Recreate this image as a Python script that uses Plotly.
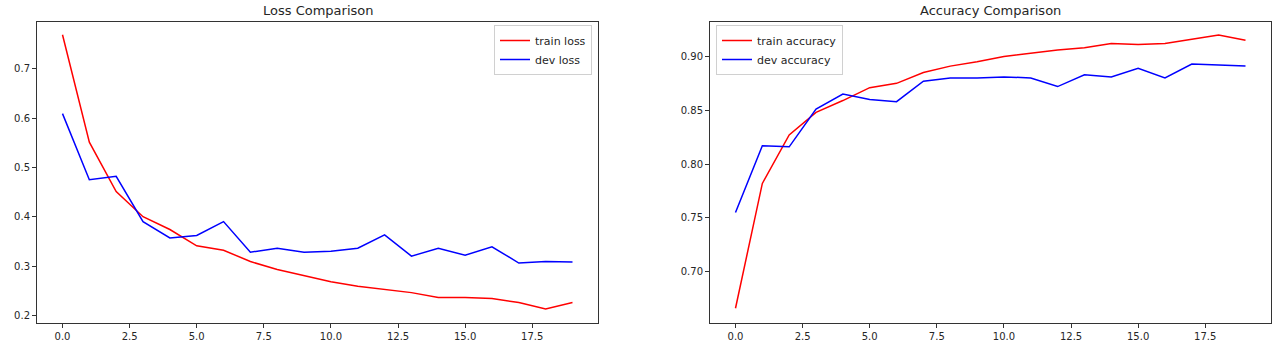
import plotly.graph_objects as go

epochs = list(range(20))
train_loss = [0.769, 0.551, 0.451, 0.400, 0.374, 0.341, 0.332, 0.309, 0.293, 0.281,
              0.268, 0.259, 0.252, 0.246, 0.236, 0.236, 0.234, 0.226, 0.213, 0.226]
dev_loss = [0.609, 0.475, 0.482, 0.390, 0.357, 0.362, 0.390, 0.328, 0.336, 0.328,
            0.330, 0.336, 0.363, 0.320, 0.336, 0.322, 0.339, 0.306, 0.309, 0.308]
train_acc = [0.666, 0.782, 0.827, 0.848, 0.859, 0.871, 0.875, 0.885, 0.891, 0.895,
             0.900, 0.903, 0.906, 0.908, 0.912, 0.911, 0.912, 0.916, 0.920, 0.915]
dev_acc = [0.755, 0.817, 0.816, 0.851, 0.865, 0.860, 0.858, 0.877, 0.880, 0.880,
           0.881, 0.880, 0.872, 0.883, 0.881, 0.889, 0.880, 0.893, 0.892, 0.891]

x_ticks = [0, 2.5, 5, 7.5, 10, 12.5, 15, 17.5]
loss_ticks = [0.2, 0.3, 0.4, 0.5, 0.6, 0.7]
acc_ticks = [0.70, 0.75, 0.80, 0.85, 0.90]

FONT = "DejaVu Sans"
TXT = "#262626"

fig = go.Figure()
fig.add_trace(go.Scatter(x=epochs, y=train_loss, mode="lines", name="train loss",
                         line=dict(color="red", width=1.5), xaxis="x", yaxis="y", legend="legend"))
fig.add_trace(go.Scatter(x=epochs, y=dev_loss, mode="lines", name="dev loss",
                         line=dict(color="blue", width=1.5), xaxis="x", yaxis="y", legend="legend"))
fig.add_trace(go.Scatter(x=epochs, y=train_acc, mode="lines", name="train accuracy",
                         line=dict(color="red", width=1.5), xaxis="x2", yaxis="y2", legend="legend2"))
fig.add_trace(go.Scatter(x=epochs, y=dev_acc, mode="lines", name="dev accuracy",
                         line=dict(color="blue", width=1.5), xaxis="x2", yaxis="y2", legend="legend2"))

ax_common = dict(showline=True, linecolor="#333333", linewidth=1, mirror=True,
                 ticks="outside", ticklen=4, tickcolor="#333333", showgrid=False,
                 zeroline=False, tickfont=dict(family=FONT, size=10, color=TXT))

ytop = 1 - 22 / 352
ybot = 1 - 323 / 352
d1 = [37 / 1280, 598 / 1280]
d2 = [710 / 1280, 1271 / 1280]

leg_common = dict(yanchor="top", y=1 - 25 / 352,
                  bgcolor="rgba(255,255,255,0.8)", bordercolor="#d0d0d0", borderwidth=1,
                  font=dict(family=FONT, size=11, color=TXT), itemwidth=30,
                  tracegroupgap=0)

fig.update_layout(
    width=1280, height=352,
    margin=dict(l=0, r=0, t=0, b=0),
    paper_bgcolor="white", plot_bgcolor="white",
    font=dict(family=FONT, color=TXT),
    xaxis=dict(domain=d1, range=[-0.95, 19.95], tickvals=x_ticks, tickformat=".1f",
               anchor="y", **ax_common),
    yaxis=dict(domain=[ybot, ytop], range=[0.1844, 0.7948], tickvals=loss_ticks,
               tickformat=".1f", anchor="x", **ax_common),
    xaxis2=dict(domain=d2, range=[-0.95, 19.95], tickvals=x_ticks, tickformat=".1f",
                anchor="y2", **ax_common),
    yaxis2=dict(domain=[ybot, ytop], range=[0.6523, 0.9320], tickvals=acc_ticks,
                tickformat=".2f", anchor="x2", **ax_common),
    legend=dict(x=592 / 1280, xanchor="right", **leg_common),
    legend2=dict(x=716 / 1280, xanchor="left", **leg_common),
    annotations=[
        dict(text="Loss Comparison", x=(d1[0] + d1[1]) / 2, y=ytop, xref="paper", yref="paper",
             xanchor="center", yanchor="bottom", yshift=2, showarrow=False,
             font=dict(family=FONT, size=13, color=TXT)),
        dict(text="Accuracy Comparison", x=(d2[0] + d2[1]) / 2, y=ytop, xref="paper", yref="paper",
             xanchor="center", yanchor="bottom", yshift=2, showarrow=False,
             font=dict(family=FONT, size=13, color=TXT)),
    ],
)

fig.write_html("out.html")
